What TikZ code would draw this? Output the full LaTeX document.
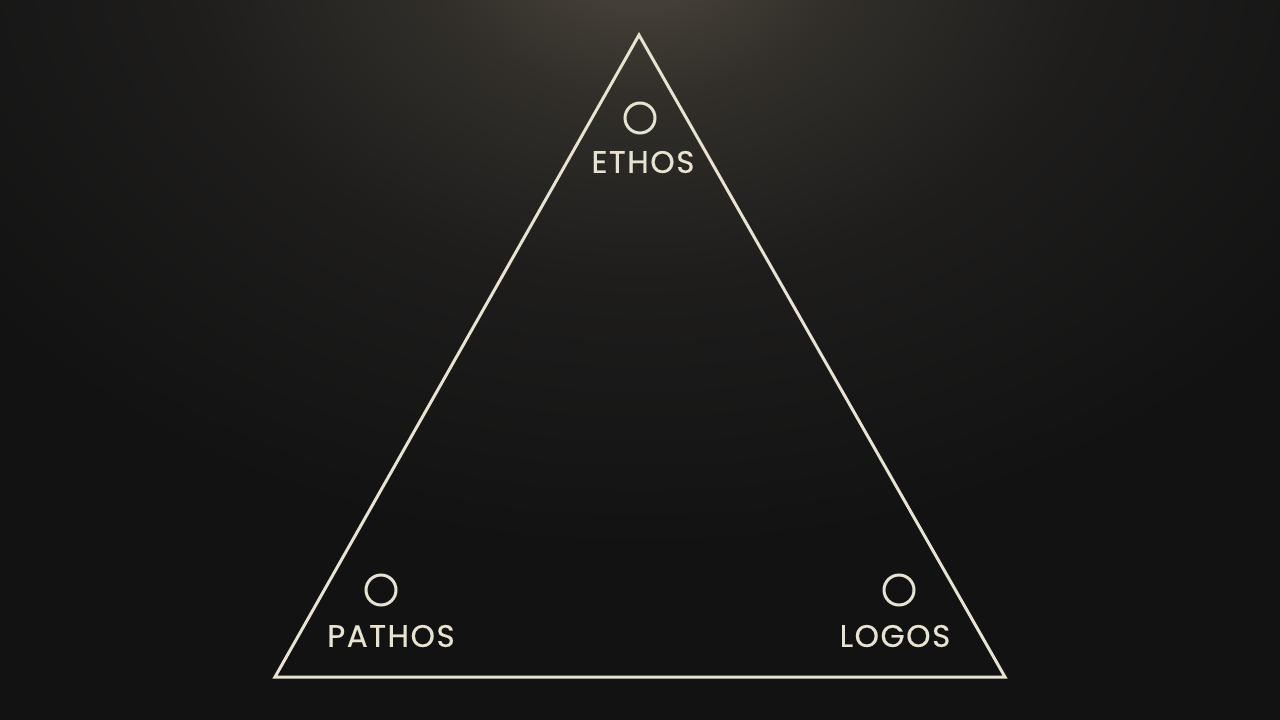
\documentclass[tikz,border=0pt]{standalone}
\usepackage{fontspec}
\newfontfamily\labfont[LetterSpace=5,FakeBold=0.4]{Poppins}
\definecolor{cream}{RGB}{232,226,208}
\definecolor{bgA}{RGB}{80,74,63}
\definecolor{bgB}{RGB}{50,47,42}
\definecolor{bgC}{RGB}{30,29,28}
\definecolor{bgD}{RGB}{18,18,18}
\pgfdeclareradialshading{bgshade}{\pgfpoint{0bp}{0bp}}{color(0bp)=(bgA); color(4.5bp)=(bgB); color(10bp)=(bgC); color(18bp)=(bgD); color(50bp)=(bgD)}
\tikzset{
  edge/.style={draw=cream, line width=3pt, line join=miter},
  mark circle/.style={circle, draw=cream, line width=3pt, minimum size=30pt, inner sep=0pt},
  label text/.style={text=cream, font=\labfont\fontsize{31}{36}\selectfont, inner sep=0pt}
}
\begin{document}
\begin{tikzpicture}[x=1pt,y=-1pt]
\useasboundingbox (0,0) rectangle (1280,720);
\fill[bgD] (0,0) rectangle (1280,720);
\begin{scope}
\clip (0,0) rectangle (1280,720);
\shade[shading=bgshade] (640,-60) ellipse (1150 and 850);
\end{scope}
\coordinate (top) at (639,35);
\coordinate (bl) at (275,677);
\coordinate (br) at (1005,677);
\draw[edge] (top) -- (bl) -- (br) -- cycle;
\node[mark circle] (ce) at (640,118) {};
\node[mark circle] (cp) at (381,590) {};
\node[mark circle] (cl) at (899,590) {};
\node[label text] (ethos) at (643,162) {ETHOS};
\node[label text] (pathos) at (391,636) {PATHOS};
\node[label text] (logos) at (895,636) {LOGOS};
\end{tikzpicture}
\end{document}
